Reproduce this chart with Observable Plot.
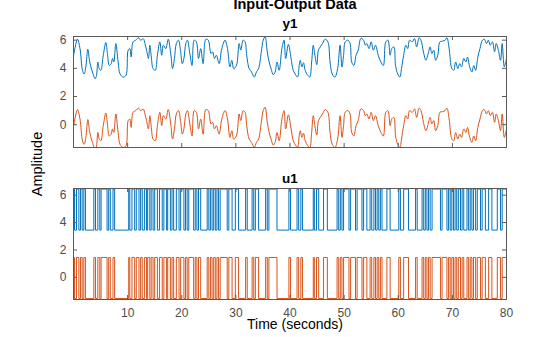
<!DOCTYPE html>
<html><head><meta charset="utf-8">
<script src="https://cdn.jsdelivr.net/npm/d3@7"></script>
<script src="https://cdn.jsdelivr.net/npm/@observablehq/plot@0.6"></script>
<style>
body{margin:0;background:#fff;}
#c{position:relative;width:560px;height:337px;font-family:"Liberation Sans",Arial,sans-serif;overflow:hidden;background:#fff;}
#c svg{position:absolute;left:0;top:0;}
.t{position:absolute;white-space:nowrap;color:#000;line-height:1;}
</style></head><body><div id="c"></div>
<script>
const yTime=[0,0.74,1.2,1.66,1.97,2.28,2.65,3.0,3.5,4.0,4.25,4.5,4.74,5.05,5.5,5.97,6.3,6.6,6.96,7.2,7.45,7.82,8.25,8.6,9.2,9.7,10.1,10.4,10.65,11.0,11.5,12.0,12.4,12.9,13.2,13.5,13.85,14.1,14.35,14.7,15.1,15.5,15.95,16.3,16.6,17.05,17.5,18.0,18.3,18.65,19.0,19.4,19.8,20.1,20.4,20.75,21.05,21.5,21.9,22.3,22.7,23.1,23.5,23.95,24.45,24.9,25.4,25.7,26.05,26.4,26.9,27.4,28.0,28.45,28.9,29.25,29.6,30.1,30.6,30.9,31.35,31.7,32.0,32.45,32.9,33.4,33.8,34.2,34.7,35.05,35.4,35.8,36.15,36.5,36.9,37.25,37.6,38.0,38.5,38.9,39.2,39.7,40.2,40.6,41.1,41.4,41.7,41.9,42.2,42.5,42.8,43.3,43.65,44.0,44.3,44.6,44.95,45.25,45.6,46.0,46.5,47.0,47.4,47.8,48.3,48.8,49.25,49.6,49.9,50.2,50.7,51.1,51.4,51.8,52.2,52.6,53.1,53.6,53.9,54.2,54.6,55.0,55.4,55.8,56.3,56.8,57.25,57.7,58.1,58.5,58.8,59.2,59.5,59.9,60.3,60.6,61.0,61.4,61.75,62.1,62.6,63.0,63.4,63.85,64.2,64.65,65.1,65.45,65.9,66.2,66.55,66.9,67.3,67.7,68.2,68.65,69.0,69.4,69.9,70.25,70.6,71.0,71.35,71.7,72.1,72.5,72.8,73.2,73.6,73.95,74.3,74.7,75.1,75.55,75.9,76.3,76.65,77.0,77.4,77.8,78.1,78.5,78.9,79.2,79.6,80.0];
const y1Blue=[4.88,6.07,5.4,3.86,3.6,4.1,5.36,4.45,3.74,3.26,3.5,4.45,4.0,3.86,4.93,5.83,4.93,4.2,4.33,4.7,4.45,5.76,4.45,3.6,3.38,3.5,5.29,5.4,4.8,5.88,6.0,6.17,6.0,6.1,5.76,5.29,4.7,5.64,4.93,3.98,3.86,4.93,5.88,4.93,5.64,5.4,6.07,4.93,3.98,4.7,5.76,6.0,5.17,4.33,4.7,5.76,6.0,5.05,4.2,6.0,5.88,4.7,5.4,4.33,6.07,6.0,5.05,5.17,4.7,4.93,4.33,5.4,6.0,5.4,4.1,4.57,3.98,4.2,5.76,5.29,6.0,5.88,4.93,3.98,3.74,3.38,3.74,3.98,5.17,6.0,6.24,5.17,4.45,3.98,3.55,3.74,4.45,3.86,5.4,6.0,4.7,5.7,4.7,3.86,3.5,3.38,4.2,4.57,4.1,4.4,3.86,3.5,3.38,4.45,5.64,4.93,4.26,5.29,5.52,5.76,6.07,5.88,4.45,3.6,3.38,3.98,5.64,4.1,4.93,5.88,6.0,5.76,4.45,4.2,4.93,5.29,6.12,6.0,5.64,5.76,5.4,5.88,5.29,5.64,4.93,4.45,4.2,5.88,6.0,4.93,5.4,5.52,4.2,3.6,3.38,3.98,4.93,5.64,5.4,6.0,5.88,6.12,5.52,6.17,6.0,5.17,4.57,4.93,5.52,5.05,5.29,4.57,4.93,5.88,5.93,6.0,6.17,5.4,3.98,3.86,4.45,3.98,4.33,4.1,4.7,4.45,4.8,4.1,3.74,4.2,3.86,4.8,5.4,6.0,6.07,5.76,6.0,5.64,5.88,5.17,5.76,5.29,4.57,5.76,4.1,4.7];
const y1Orange=[-0.12,1.07,0.4,-1.14,-1.4,-0.9,0.36,-0.55,-1.26,-1.74,-1.5,-0.55,-1.0,-1.14,-0.07,0.83,-0.07,-0.8,-0.67,-0.3,-0.55,0.76,-0.55,-1.4,-1.62,-1.5,0.29,0.4,-0.2,0.88,1.0,1.17,1.0,1.1,0.76,0.29,-0.3,0.64,-0.07,-1.02,-1.14,-0.07,0.88,-0.07,0.64,0.4,1.07,-0.07,-1.02,-0.3,0.76,1.0,0.17,-0.67,-0.3,0.76,1.0,0.05,-0.8,1.0,0.88,-0.3,0.4,-0.67,1.07,1.0,0.05,0.17,-0.3,-0.07,-0.67,0.4,1.0,0.4,-0.9,-0.43,-1.02,-0.8,0.76,0.29,1.0,0.88,-0.07,-1.02,-1.26,-1.62,-1.26,-1.02,0.17,1.0,1.24,0.17,-0.55,-1.02,-1.45,-1.26,-0.55,-1.14,0.4,1.0,-0.3,0.7,-0.3,-1.14,-1.5,-1.62,-0.8,-0.43,-0.9,-0.6,-1.14,-1.5,-1.62,-0.55,0.64,-0.07,-0.74,0.29,0.52,0.76,1.07,0.88,-0.55,-1.4,-1.62,-1.02,0.64,-0.9,-0.07,0.88,1.0,0.76,-0.55,-0.8,-0.07,0.29,1.12,1.0,0.64,0.76,0.4,0.88,0.29,0.64,-0.07,-0.55,-0.8,0.88,1.0,-0.07,0.4,0.52,-0.8,-1.4,-1.62,-1.02,-0.07,0.64,0.4,1.0,0.88,1.12,0.52,1.17,1.0,0.17,-0.43,-0.07,0.52,0.05,0.29,-0.43,-0.07,0.88,0.93,1.0,1.17,0.4,-1.02,-1.14,-0.55,-1.02,-0.67,-0.9,-0.3,-0.55,-0.2,-0.9,-1.26,-0.8,-1.14,-0.2,0.4,1.0,1.07,0.76,1.0,0.64,0.88,0.17,0.76,0.29,-0.43,0.76,-0.9,-0.3];
const uTime=[0,0.18,0.55,0.99,1.29,1.6,1.91,2.2,3.76,4.06,4.5,4.86,5.1,6.2,6.5,6.8,7.3,7.6,10.2,10.4,10.8,11.3,11.6,12.1,12.4,12.7,13.1,13.5,13.7,14.1,14.35,14.7,15.0,15.5,15.9,16.4,16.7,17.2,17.4,17.9,18.2,18.5,19.0,19.5,19.8,
20.4,20.7,21.0,21.3,22.2,22.5,22.8,23.1,23.5,24.7,25.0,25.3,25.6,25.9,26.2,26.5,26.8,27.1,28.4,28.7,29.3,29.9,30.5,31.8,32.1,33.0,33.3,33.6,34.2,35.5,35.8,36.1,37.6,39.8,40.1,
41.3,41.6,42.0,42.3,44.3,44.5,44.9,45.3,46.2,46.9,48.7,49.0,49.3,49.6,49.9,50.9,51.2,52.1,52.4,53.3,53.6,54.2,54.8,55.1,55.5,55.8,56.1,56.4,56.7,57.0,57.9,58.5,60.1,60.4,61.0,61.9,
63.2,63.5,64.4,64.7,65.0,65.3,65.6,65.9,66.25,67.8,68.1,69.0,69.3,69.6,69.9,70.2,70.5,70.8,71.1,71.5,71.8,72.1,72.7,73.0,73.3,73.6,73.9,74.3,74.6,75.2,75.5,76.1,76.7,77.3,78.3,78.9,79.2,80];
const u1Blue=[6.45,3.45,6.45,3.45,6.45,3.45,6.45,3.45,6.45,3.45,6.45,3.45,6.45,3.45,6.45,3.45,6.45,3.45,6.45,3.45,
6.45,3.45,6.45,3.45,6.45,3.45,6.45,3.45,6.45,3.45,6.45,3.45,6.45,3.45,6.45,3.45,6.45,3.45,6.45,3.45,
6.45,3.45,6.45,3.45,6.45,3.45,6.45,3.45,6.45,3.45,6.45,3.45,6.45,3.45,6.45,3.45,6.45,3.45,6.45,3.45,
6.45,3.45,6.45,3.45,6.45,3.45,6.45,3.45,6.45,3.45,6.45,3.45,6.45,3.45,6.45,3.45,6.45,3.45,6.45,3.45,
6.45,3.45,6.45,3.45,6.45,3.45,6.45,3.45,6.45,3.45,6.45,3.45,6.45,3.45,6.45,3.45,6.45,3.45,6.45,3.45,
6.45,3.45,6.45,3.45,6.45,3.45,6.45,3.45,6.45,3.45,6.45,3.45,6.45,3.45,6.45,3.45,6.45,3.45,6.45,3.45,
6.45,3.45,6.45,3.45,6.45,3.45,6.45,3.45,6.45,3.45,6.45,3.45,6.45,3.45,6.45,3.45,6.45,3.45,6.45,3.45,
6.45,3.45,6.45,3.45,6.45,3.45,6.45,3.45,6.45,3.45,6.45,3.45,6.45,3.45];
const u1Orange=[1.45,-1.55,1.45,-1.55,1.45,-1.55,1.45,-1.55,1.45,-1.55,1.45,-1.55,1.45,-1.55,1.45,-1.55,1.45,-1.55,1.45,-1.55,
1.45,-1.55,1.45,-1.55,1.45,-1.55,1.45,-1.55,1.45,-1.55,1.45,-1.55,1.45,-1.55,1.45,-1.55,1.45,-1.55,1.45,-1.55,
1.45,-1.55,1.45,-1.55,1.45,-1.55,1.45,-1.55,1.45,-1.55,1.45,-1.55,1.45,-1.55,1.45,-1.55,1.45,-1.55,1.45,-1.55,
1.45,-1.55,1.45,-1.55,1.45,-1.55,1.45,-1.55,1.45,-1.55,1.45,-1.55,1.45,-1.55,1.45,-1.55,1.45,-1.55,1.45,-1.55,
1.45,-1.55,1.45,-1.55,1.45,-1.55,1.45,-1.55,1.45,-1.55,1.45,-1.55,1.45,-1.55,1.45,-1.55,1.45,-1.55,1.45,-1.55,
1.45,-1.55,1.45,-1.55,1.45,-1.55,1.45,-1.55,1.45,-1.55,1.45,-1.55,1.45,-1.55,1.45,-1.55,1.45,-1.55,1.45,-1.55,
1.45,-1.55,1.45,-1.55,1.45,-1.55,1.45,-1.55,1.45,-1.55,1.45,-1.55,1.45,-1.55,1.45,-1.55,1.45,-1.55,1.45,-1.55,
1.45,-1.55,1.45,-1.55,1.45,-1.55,1.45,-1.55,1.45,-1.55,1.45,-1.55,1.45,-1.55];
const xTicks=[10,20,30,40,50,60,70,80];
const yTicks=[0,2,4,6];
const xDomain=[0,80];
const yDomainTop=[-1.62,6.26];
const yDomainBottom=[-1.62,6.49];
const BLUE="#0072BD", ORANGE="#D95319", AX="#5a5a5a";

const W=560,H=337,ML=73,MR=54;
function panel(tBlue, vBlue, tOr, vOr, yDomain, top, bottom, curve, showX){
  const pw=W-ML-MR, ph=bottom-top;
  const blue=tBlue.map((t,i)=>({t,v:vBlue[i]}));
  const orange=tOr.map((t,i)=>({t,v:vOr[i]}));
  const marks=[
    Plot.line(blue,{x:"t",y:"v",stroke:BLUE,strokeWidth:1,curve,clip:true}),
    Plot.line(orange,{x:"t",y:"v",stroke:ORANGE,strokeWidth:1,curve,clip:true}),
    Plot.frame({stroke:AX,strokeWidth:1}),
    Plot.tickX(xTicks,{x:d=>d,stroke:AX,insetTop:ph-4}),
    Plot.tickX(xTicks,{x:d=>d,stroke:AX,insetBottom:ph-4}),
    Plot.tickY(yTicks,{y:d=>d,stroke:AX,insetRight:pw-4}),
    Plot.tickY(yTicks,{y:d=>d,stroke:AX,insetLeft:pw-4}),
    Plot.axisY(yTicks,{tickSize:0,tickPadding:7,fontSize:12,fill:"#4d4d4d",label:null})
  ];
  if(showX) marks.push(Plot.axisX(xTicks,{tickSize:0,tickPadding:9,fontSize:12,fill:"#4d4d4d",label:null}));
  else marks.push(Plot.axisX([], {label:null}));
  return Plot.plot({
    width:W,height:H,marginLeft:ML,marginRight:MR,marginTop:top,marginBottom:H-bottom,
    x:{domain:xDomain},y:{domain:yDomain},
    style:{fontFamily:'"Liberation Sans",Arial,sans-serif',background:"transparent",overflow:"visible"},
    marks
  });
}
const c=document.getElementById("c");
c.appendChild(panel(yTime,y1Blue,yTime,y1Orange,yDomainTop,36,147,"catmull-rom",false));
c.appendChild(panel(uTime,u1Blue,uTime,u1Orange,yDomainBottom,188,299,"step-after",true));
function txt(s,x,y,size,bold,rot){
  const d=document.createElement("div");d.className="t";d.textContent=s;
  d.style.fontSize=size+"px";d.style.fontWeight=bold?"bold":"normal";
  d.style.left=x+"px";d.style.top=y+"px";
  d.style.transform="translate(-50%,-50%)"+(rot?" rotate(-90deg)":"");
  c.appendChild(d);
}
txt("Input-Output Data",295,4,14.5,true);
txt("y1",290,24,13.5,true);
txt("u1",290,179,13.5,true);
txt("Amplitude",37,164,14.5,false,true);
txt("Time (seconds)",295,324,14,false);
</script></body></html>
